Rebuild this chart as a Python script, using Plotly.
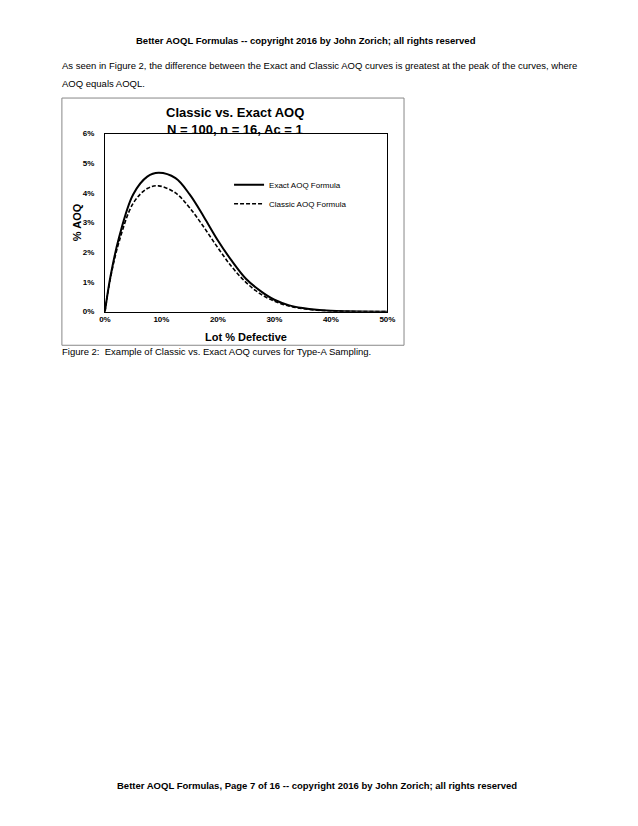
import plotly.graph_objects as go

x_pct = [0, 1, 2.5, 5, 7.5, 9.5, 12.5, 15, 17.5, 20, 22.5, 25, 27.5, 30, 32.5, 35, 37.5, 40, 45, 50]
exact = [0, 1.2, 2.5, 3.95, 4.55, 4.68, 4.5, 3.95, 3.2, 2.4, 1.7, 1.1, 0.7, 0.4, 0.22, 0.12, 0.06, 0.03, 0.005, 0]
classic = [0, 1.15, 2.35, 3.65, 4.15, 4.24, 4.0, 3.5, 2.85, 2.15, 1.5, 0.98, 0.6, 0.35, 0.19, 0.1, 0.05, 0.025, 0.004, 0]
x_ticks = [0, 10, 20, 30, 40, 50]
y_ticks = [0, 1, 2, 3, 4, 5, 6]

M = 8  # page body margin
W, H = 638 - 2*M, 826 - 2*M
F = "Liberation Sans"

def px(x): return (x - M) / W
def py(y): return 1 - (y - M) / H

fig = go.Figure()
fig.add_trace(go.Scatter(x=x_pct, y=exact, mode="lines", name="Exact AOQ Formula",
                         line=dict(color="black", width=2, shape="spline")))
fig.add_trace(go.Scatter(x=x_pct, y=classic, mode="lines", name="Classic AOQ Formula",
                         line=dict(color="black", width=1.6, dash="4px,2px", shape="spline")))

fig.update_layout(
    width=W, height=H, margin=dict(l=0, r=0, t=0, b=0),
    paper_bgcolor="white", plot_bgcolor="white",
    font=dict(family=F, color="black"),
    xaxis=dict(domain=[px(101), px(390)], range=[0, 50], tickvals=x_ticks,
               ticktext=[f"<b>{v}%</b>" for v in x_ticks], showgrid=False, zeroline=False,
               showline=True, linecolor="black", mirror=True, ticks="",
               tickfont=dict(size=8, family=F), anchor="y"),
    yaxis=dict(domain=[py(311), py(131)], range=[0, 6], tickvals=y_ticks,
               ticktext=[f"<b>{v}%</b>" for v in y_ticks], showgrid=False, zeroline=False,
               showline=True, linecolor="black", mirror=True, ticks="",
               tickfont=dict(size=8, family=F), anchor="x", ticklabelstandoff=8),
    legend=dict(x=px(228), y=py(168), xanchor="left", yanchor="top", bgcolor="rgba(0,0,0,0)",
                font=dict(size=8, family=F), tracegroupgap=6),
    showlegend=True,
)
fig.add_shape(type="rect", xref="paper", yref="paper", x0=px(57), x1=px(407), y0=py(345), y1=py(95),
              line=dict(color="#888888", width=1), fillcolor="rgba(0,0,0,0)")

def ann(text, x, y, size, bold=False, xanchor="center", angle=0):
    fig.add_annotation(text=f"<b>{text}</b>" if bold else text, x=px(x), y=py(y), xref="paper", yref="paper",
                       showarrow=False, xanchor=xanchor, yanchor="middle", textangle=angle,
                       font=dict(size=size, family=F, color="black"))

ann("Better AOQL Formulas -- copyright 2016 by John Zorich; all rights reserved", 307, 37, 9.5, True)
ann("As seen in Figure 2, the difference between the Exact and Classic AOQ curves is greatest at the peak of the curves, where", 55, 62, 9.5, xanchor="left")
ann("AOQ equals AOQL.", 55, 80, 9.5, xanchor="left")
ann("Classic vs. Exact AOQ", 234, 110, 13, True)
ann("N = 100, n = 16, Ac = 1", 234, 127, 13, True)
ann("% AOQ", 72, 221, 11, True, angle=-90)
ann("Lot % Defective", 245, 337, 11, True)
ann("Figure 2:  Example of Classic vs. Exact AOQ curves for Type-A Sampling.", 55, 351, 9.5, xanchor="left")
ann("Better AOQL Formulas, Page 7 of 16 -- copyright 2016 by John Zorich; all rights reserved", 318, 790, 9.5, True)

fig.write_html("out.html")
